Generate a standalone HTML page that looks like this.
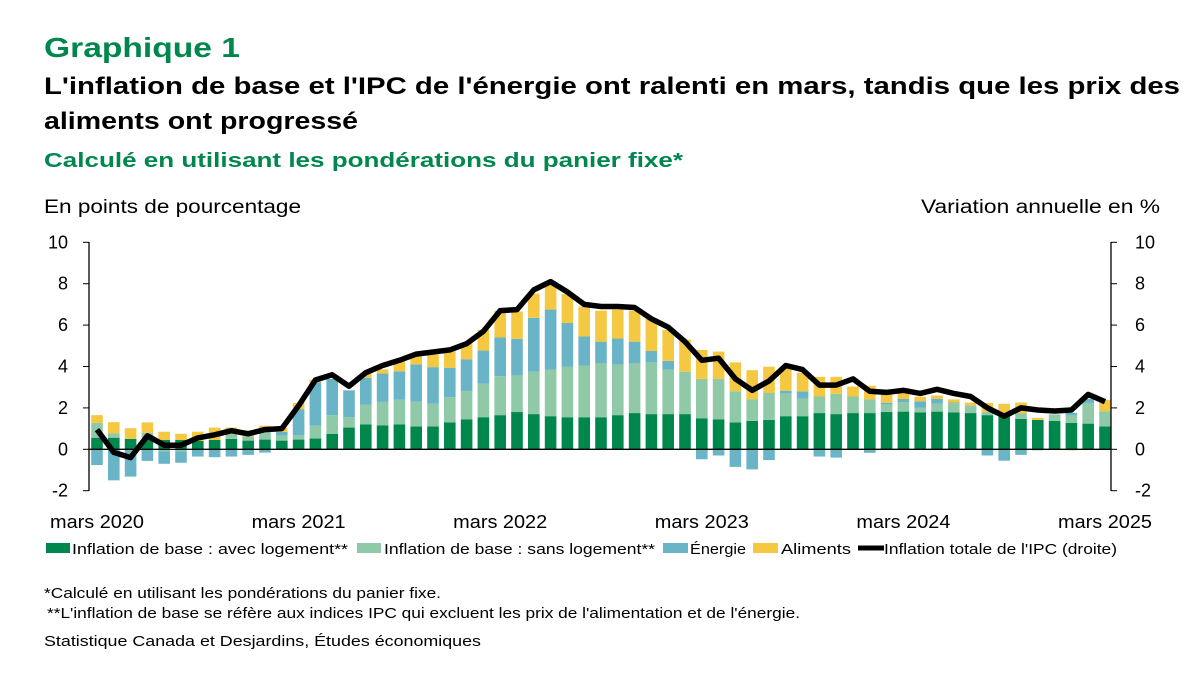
<!DOCTYPE html>
<html><head><meta charset="utf-8"><style>
html,body{margin:0;padding:0;background:#fff;}
svg{display:block;font-family:"Liberation Sans",sans-serif;}
</style></head><body>
<svg id="s" width="1200" height="675" viewBox="0 0 1200 675" xmlns="http://www.w3.org/2000/svg">
<text x="44" y="57" font-size="28" font-weight="bold" fill="#00874D" textLength="196" lengthAdjust="spacingAndGlyphs">Graphique 1</text>
<text x="44" y="94" font-size="24" font-weight="bold" fill="#000" textLength="1136" lengthAdjust="spacingAndGlyphs">L'inflation de base et l'IPC de l'énergie ont ralenti en mars, tandis que les prix des</text>
<text x="44" y="129" font-size="24" font-weight="bold" fill="#000" textLength="314" lengthAdjust="spacingAndGlyphs">aliments ont progressé</text>
<text x="44" y="167" font-size="20" font-weight="bold" fill="#00874D" textLength="639" lengthAdjust="spacingAndGlyphs">Calculé en utilisant les pondérations du panier fixe*</text>
<text x="44" y="213" font-size="19" fill="#000" textLength="257" lengthAdjust="spacingAndGlyphs">En points de pourcentage</text>
<text x="921" y="213" font-size="19" fill="#000" textLength="239" lengthAdjust="spacingAndGlyphs">Variation annuelle en %</text>
<g id="g"></g>
<g font-size="15" fill="#000">
<rect x="46" y="543" width="24" height="10" fill="#00874D"/>
<text x="72" y="554" textLength="276" lengthAdjust="spacingAndGlyphs">Inflation de base : avec logement**</text>
<rect x="357" y="543" width="24" height="10" fill="#8FC9A8"/>
<text x="384" y="554" textLength="271" lengthAdjust="spacingAndGlyphs">Inflation de base : sans logement**</text>
<rect x="663" y="543" width="25" height="10" fill="#6AB4C8"/>
<text x="690" y="554" textLength="56" lengthAdjust="spacingAndGlyphs">Énergie</text>
<rect x="753" y="543" width="25" height="10" fill="#F5C842"/>
<text x="781" y="554" textLength="70" lengthAdjust="spacingAndGlyphs">Aliments</text>
<line x1="858" y1="548" x2="884" y2="548" stroke="#000" stroke-width="5"/>
<text x="884" y="554" textLength="233" lengthAdjust="spacingAndGlyphs">Inflation totale de l'IPC (droite)</text>
</g>
<g font-size="15" fill="#000">
<text x="44" y="598" textLength="397" lengthAdjust="spacingAndGlyphs">*Calculé en utilisant les pondérations du panier fixe.</text>
<text x="47" y="618" textLength="753" lengthAdjust="spacingAndGlyphs">**L'inflation de base se réfère aux indices IPC qui excluent les prix de l'alimentation et de l'énergie.</text>
<text x="44" y="646" textLength="437" lengthAdjust="spacingAndGlyphs">Statistique Canada et Desjardins, Études économiques</text>
</g>
</svg>
<script>
var D=[[.56,.72,-.76,.37,.95],[.56,.22,-1.5,.53,-.15],[.5,0,-1.32,.52,-.4],[.5,.3,-.56,.5,.65],[.45,-.1,-.6,.4,.2],[.45,-.1,-.55,.3,.2],[.4,0,-.35,.45,.55],[.45,0,-.38,.6,.7],[.5,.25,-.35,.3,.9],[.42,.2,-.27,.3,.75],[.47,.47,-.16,.2,.95],[.42,.24,.18,.2,1.0],
[.47,.22,1.25,.3,2.1],[.52,.62,2.1,.12,3.35],[.75,.9,1.75,0,3.6],[1.05,.5,1.3,0,3.05],[1.2,.95,1.3,.2,3.7],[1.15,1.14,1.37,.2,4.05],[1.2,1.2,1.37,.5,4.3],[1.1,1.2,1.8,.5,4.6],[1.1,1.1,1.77,.6,4.7],[1.3,1.22,1.42,.8,4.8],[1.45,1.37,1.53,.82,5.1],[1.55,1.62,1.6,1.0,5.7],
[1.65,1.88,1.87,1.3,6.7],[1.8,1.77,1.77,1.32,6.75],[1.7,2.05,2.6,1.17,7.7],[1.6,2.25,2.9,1.25,8.1],[1.55,2.45,2.1,1.4,7.6],[1.55,2.5,1.4,1.45,7.0],[1.55,2.6,1.05,1.5,6.9],[1.65,2.45,1.25,1.4,6.9],[1.75,2.4,1.05,1.5,6.85],[1.7,2.5,.55,1.55,6.3],[1.7,2.15,.42,1.5,5.9],[1.7,2.05,0,1.55,5.2],
[1.5,1.9,-.48,1.4,4.3],[1.45,1.95,-.3,1.32,4.4],[1.3,1.5,-.85,1.4,3.4],[1.37,1.05,-.97,1.4,2.85],[1.42,1.3,-.52,1.27,3.3],[1.6,1.1,.13,1.15,4.05],[1.6,.85,.35,.9,3.85],[1.75,.8,-.35,.95,3.1],[1.7,.98,-.4,.82,3.1],[1.75,.8,0,.48,3.4],[1.75,.66,-.17,.66,2.8],[1.8,.37,.08,.4,2.75],
[1.82,.45,.16,.3,2.85],[1.78,.24,.3,.22,2.7],[1.82,.38,.24,.16,2.9],[1.78,.45,.03,.15,2.7],[1.75,.33,.03,.15,2.55],[1.65,.16,-.3,.43,2.0],[1.6,0,-.55,.6,1.6],[1.47,.26,-.27,.53,2.0],[1.42,0,-.05,.1,1.9],[1.37,.32,0,0,1.85],[1.27,.37,.12,-.05,1.9],[1.24,1.0,.2,0,2.65],[1.1,.74,0,.55,2.3]];
var C=["#00874D","#8FC9A8","#6AB4C8","#F5C842"];
var Y0=449.3,U=20.7;function y(v){return Y0-v*U;}
var h="";
for(var i=0;i<D.length;i++){var cx=97+i*16.8,x=cx-5.8,p=0,n=0;
for(var k=0;k<4;k++){var v=D[i][k];if(v>0){h+='<rect x="'+x+'" y="'+y(p+v)+'" width="11.6" height="'+(v*U)+'" fill="'+C[k]+'"/>';p+=v;}else if(v<0){h+='<rect x="'+x+'" y="'+y(n)+'" width="11.6" height="'+(-v*U)+'" fill="'+C[k]+'"/>';n+=v;}}}
h+='<line x1="89" y1="'+Y0+'" x2="1111" y2="'+Y0+'" stroke="#000" stroke-width="1.3"/>';
h+='<line x1="89" y1="242" x2="89" y2="491" stroke="#000" stroke-width="1.3"/><line x1="1111" y1="242" x2="1111" y2="491" stroke="#000" stroke-width="1.3"/>';
for(var t=-2;t<=10;t+=2){var yy=y(t);h+='<line x1="83" y1="'+yy+'" x2="89" y2="'+yy+'" stroke="#000"/><line x1="1111" y1="'+yy+'" x2="1117" y2="'+yy+'" stroke="#000"/>';
h+='<text x="68" y="'+(yy+6)+'" font-size="18" text-anchor="end">'+t+'</text><text x="1135" y="'+(yy+6)+'" font-size="18">'+t+'</text>';}
var pts=[];for(var i=0;i<D.length;i++)pts.push((97+i*16.8).toFixed(1)+","+y(D[i][4]).toFixed(1));
h+='<polyline points="'+pts.join(" ")+'" fill="none" stroke="#000" stroke-width="5.5" stroke-linejoin="round"/>';
var L=["mars 2020","mars 2021","mars 2022","mars 2023","mars 2024","mars 2025"];
for(var j=0;j<6;j++){h+='<text x="'+(97+j*12*16.8)+'" y="528" font-size="18" text-anchor="middle" textLength="94" lengthAdjust="spacingAndGlyphs">'+L[j]+'</text>';}
document.getElementById("g").innerHTML=h;
</script>
</body></html>
